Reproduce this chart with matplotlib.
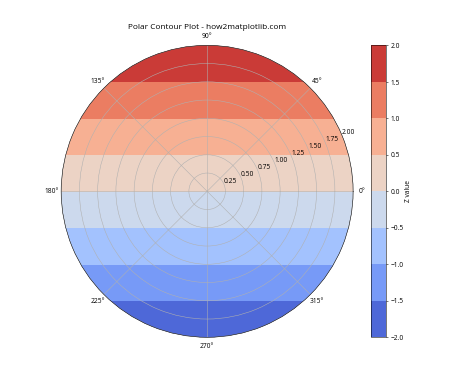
import numpy as np
import matplotlib.pyplot as plt

plt.rcParams['font.family'] = ['Open Sans', 'DejaVu Sans']

# polar grid
r_max = 2.0
r = np.linspace(0, r_max, 100)
theta = np.linspace(0, 2 * np.pi, 100)
levels = [-2.0, -1.5, -1.0, -0.5, 0.0, 0.5, 1.0, 1.5, 2.0]

R, T = np.meshgrid(r, theta)
Z = R * np.sin(T)

fig, ax = plt.subplots(figsize=(10, 8), dpi=47.4, subplot_kw={'projection': 'polar'})
cs = ax.contourf(T, R, Z, levels=levels, cmap='coolwarm')
ax.set_title('Polar Contour Plot - how2matplotlib.com', fontsize=12.5)
cbar = plt.colorbar(cs)
cbar.set_label('Z value', labelpad=2)

plt.savefig('out.png')
